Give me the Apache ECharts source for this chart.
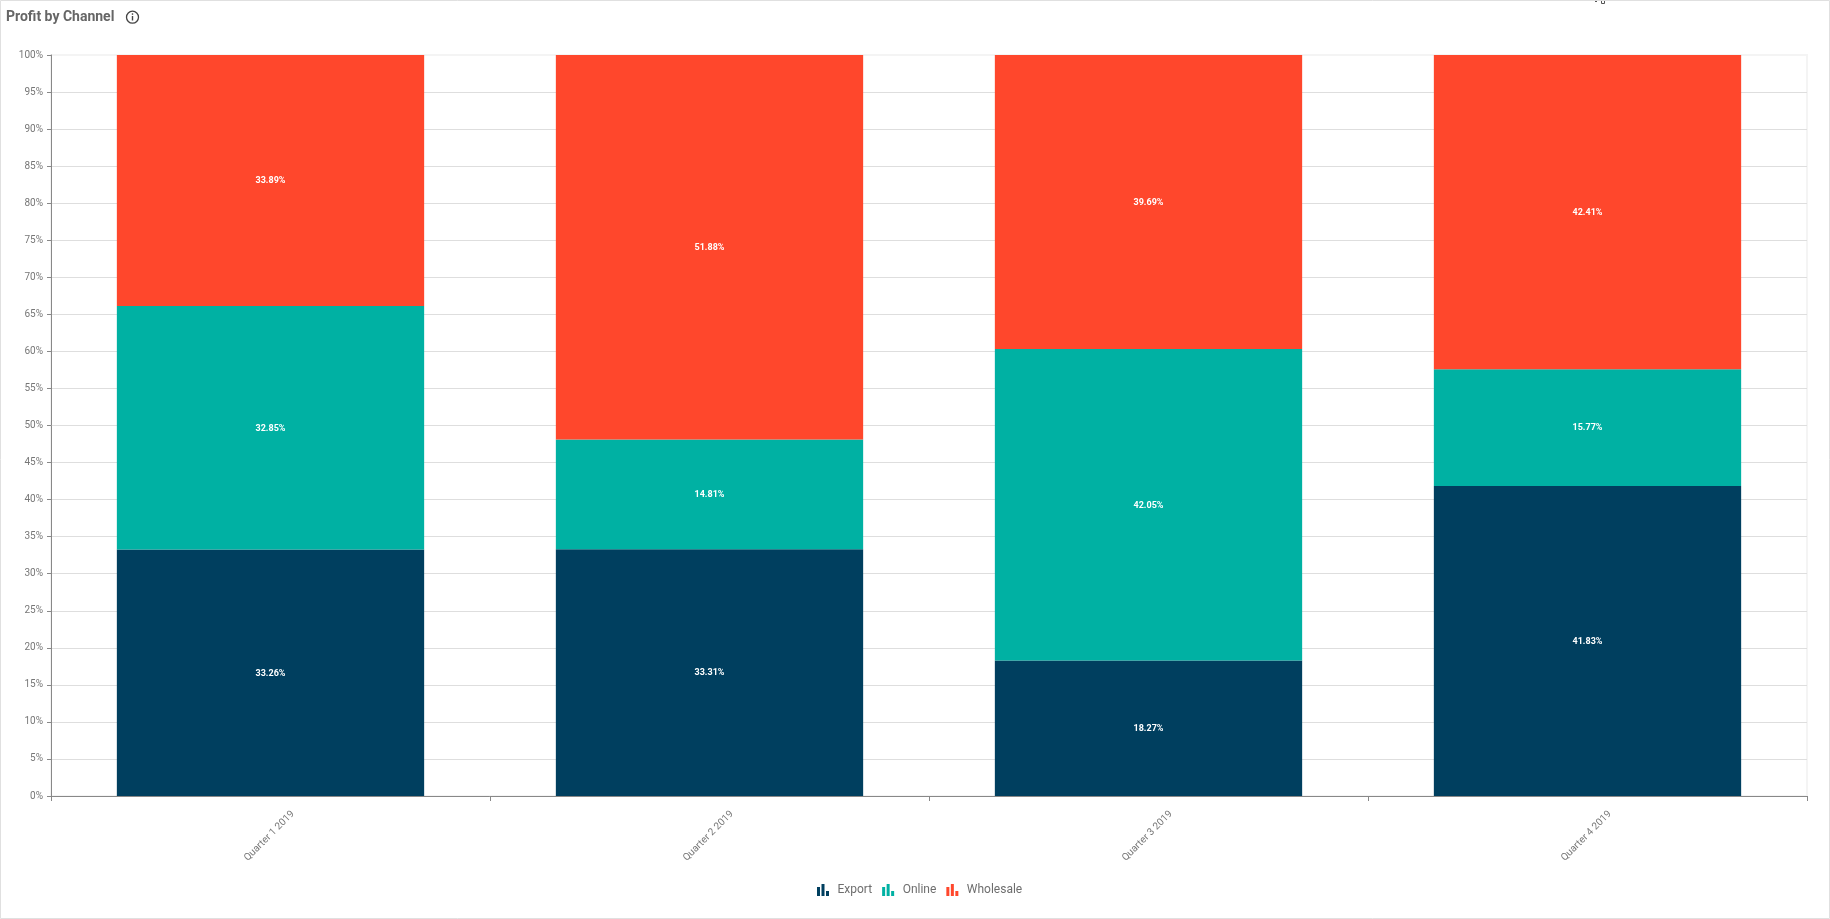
<!DOCTYPE html>
<html><head><meta charset="utf-8">
<style>html,body{margin:0;padding:0;background:#fff;overflow:hidden}#c{width:1830px;height:919px}</style>
<script src="https://cdn.jsdelivr.net/npm/echarts@6/dist/echarts.min.js"></script>
</head><body><div id="c"></div>
<script>
const categories = ['Quarter 1 2019','Quarter 2 2019','Quarter 3 2019','Quarter 4 2019'];
const exportValues = [33.26,33.31,18.27,41.83];
const onlineValues = [32.85,14.81,42.05,15.77];
const wholesaleValues = [33.89,51.88,39.69,42.41];
const titleText = 'Profit by Channel';
const barIcon = 'path://M0 3H3V12H0Z M4.5 0H7.5V12H4.5Z M9 7H12V12H9Z';
const chart = echarts.init(document.getElementById('c'), null, {renderer:'canvas'});
function mk(name, data, color){
  return {name, type:'bar', stack:'t', data, barWidth:'70%', itemStyle:{color, borderWidth:0},
    label:{show:true, position:'inside', offset:[0,0.5], color:'#fff', fontFamily:'Roboto', fontWeight:'bold', fontSize:9, formatter:p=>p.value.toFixed(2)+'%'}};
}
const gridLineColors = new Array(20).fill('#dedede').concat(['#f4f4f4']);
chart.setOption({
  animation:false,
  backgroundColor:'#fff',
  title:{text:titleText, left:6, top:10, textStyle:{fontFamily:'Roboto', fontSize:14, fontWeight:'bold', color:'#666'}, padding:0},
  grid:{left:51, right:23, top:55, bottom:123, show:true, borderColor:'#f4f4f4', borderWidth:2, backgroundColor:'transparent'},
  legend:{bottom:18, left:812, itemWidth:12, itemHeight:12, itemGap:10, icon:barIcon, itemStyle:{borderWidth:0},
    textStyle:{fontFamily:'Roboto', fontSize:12, color:'#6e6e6e', padding:[0,0,0,3.5]}, data:['Export','Online','Wholesale']},
  xAxis:{type:'category', data:categories,
    axisLine:{lineStyle:{color:'#888'}}, axisTick:{show:true, alignWithLabel:false, length:5, lineStyle:{color:'#888'}},
    axisLabel:{rotate:45, align:'center', verticalAlign:'middle', padding:[0,3,3,0], fontFamily:'Roboto', fontSize:10, color:'#777', margin:39}},
  yAxis:{type:'value', min:0, max:100, interval:5,
    axisLine:{show:true, lineStyle:{color:'#888'}}, axisTick:{show:true, length:4, lineStyle:{color:'#888'}},
    axisLabel:{formatter:'{value}%', fontFamily:'Roboto', fontSize:10, color:'#777', margin:8},
    splitLine:{show:true, lineStyle:{color:gridLineColors, width:1}}},
  series:[mk('Export',exportValues,'#003f5f'), mk('Online',onlineValues,'#00b1a3'), mk('Wholesale',wholesaleValues,'#ff472c')],
  graphic:[
    {type:'rect', shape:{x:0.5,y:0.5,width:1829,height:918}, style:{fill:'none', stroke:'#e0e0e0', lineWidth:1}, silent:true, z:100},
    {type:'circle', shape:{cx:132.5,cy:17.2,r:6}, style:{fill:'none', stroke:'#444', lineWidth:1.3}, silent:true},
    {type:'rect', shape:{x:131.8,y:16,width:1.4,height:4.5}, style:{fill:'#444'}, silent:true},
    {type:'rect', shape:{x:131.8,y:13.3,width:1.4,height:1.5}, style:{fill:'#444'}, silent:true},
    {type:'polyline', shape:{points:[[1595,1.5],[1597,1.5]]}, style:{stroke:'#555', lineWidth:1, fill:'none'}, silent:true, z:101},
    {type:'polyline', shape:{points:[[1601.5,1],[1601.5,3.5],[1604.5,3.5],[1604.5,1]]}, style:{stroke:'#555', lineWidth:1, fill:'none'}, silent:true, z:101}
  ]
});
</script></body></html>
